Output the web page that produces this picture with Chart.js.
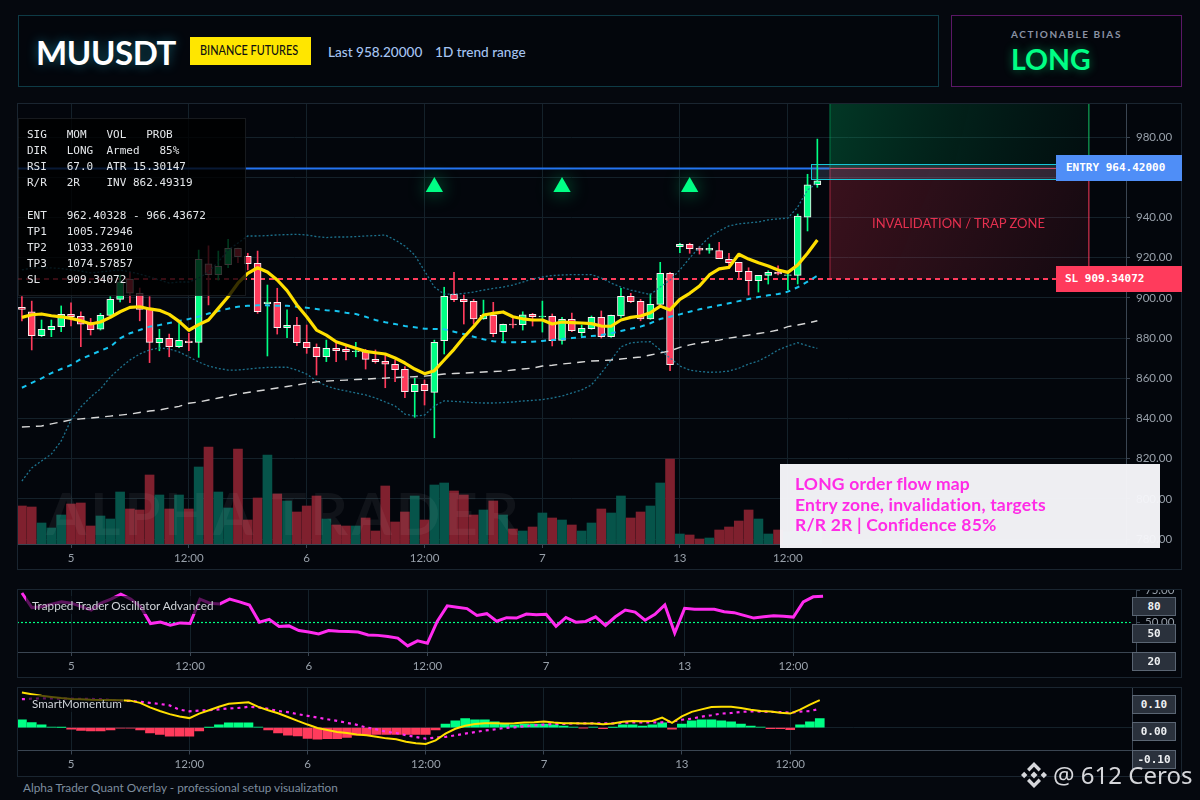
<!DOCTYPE html>
<html>
<head>
<meta charset="utf-8">
<title>MUUSDT</title>
<script src="https://cdn.jsdelivr.net/npm/chart.js@4/dist/chart.umd.min.js"></script>
<style>
  html, body { margin: 0; padding: 0; background: #05080e; }
  #page { position: relative; width: 1200px; height: 800px; overflow: hidden; background: #05080e; font-family: Lato, "Noto Sans", sans-serif; }
  #page div, #page canvas, #page pre, #page svg { position: absolute; box-sizing: border-box; }
  .panel { background: #03060c; border: 1px solid #1a2530; }
  .frame { border: 1px solid #1a2530; pointer-events: none; }
  .mono { font-family: "DejaVu Sans Mono", monospace; }
  .axisBox { left: 1132px; width: 44px; background: #2a313c; border: 1px solid #5a6573; color: #eef0f2; font: bold 11px "DejaVu Sans Mono", monospace; text-align: center; }
  .paneTitle { background: rgba(3,6,12,.65); color: #cfd3d8; font-size: 11.7px; padding-left: 6px; white-space: nowrap; }
</style>
</head>
<body>
<div id="page">
  <div style="left:18px;top:15px;width:921px;height:72px;background:#03060c;border:1px solid #0e3b46"></div>
  <div style="left:36px;top:30px;font-size:33px;line-height:44px;font-weight:700;letter-spacing:-.4px;color:#fff;text-shadow:0 0 12px rgba(40,200,230,.45)">MUUSDT</div>
  <div style="left:190px;top:37px;width:121px;height:28px;background:#ffe600"></div>
  <div style="left:200px;top:37px;color:#111;font-size:12.5px;line-height:28px;font-weight:500;white-space:nowrap;transform:scaleX(.87);transform-origin:left">BINANCE FUTURES</div>
  <div style="left:328px;top:42px;font-size:13.6px;line-height:20px;color:#a6c4f2;font-weight:500;white-space:nowrap">Last 958.20000</div>
  <div style="left:435px;top:42px;font-size:13.6px;line-height:20px;color:#a6c4f2;font-weight:500;white-space:nowrap">1D trend range</div>

  <div style="left:951px;top:15px;width:231px;height:72px;background:#03060c;border:1px solid #5b1766"></div>
  <div style="left:1011px;top:27px;font-size:10px;line-height:14px;letter-spacing:1.6px;color:#8a92a4;font-weight:700;white-space:nowrap">ACTIONABLE BIAS</div>
  <div style="left:1011px;top:40px;font-size:28.5px;line-height:38px;font-weight:700;color:#00ff85;text-shadow:0 0 10px rgba(0,255,133,.45)">LONG</div>

  <div class="panel" style="left:17px;top:103px;width:1165px;height:467px"></div>
  <canvas id="mainCV" width="1165" height="467" style="left:17px;top:103px"></canvas>
  <div class="frame" style="left:17px;top:103px;width:1165px;height:467px"></div>
  <div style="left:46px;top:478px;font-size:58px;line-height:70px;font-weight:700;letter-spacing:4px;color:rgba(255,255,255,.055);white-space:nowrap">ALPHA TRADER</div>

  <div style="left:18px;top:118px;width:228px;height:178px;background:rgba(0,0,0,.78);border:1px solid rgba(90,100,110,.25)"></div>
  <pre class="mono" style="left:27px;top:127px;margin:0;font-size:11px;line-height:16.15px;color:#e4e7ea">SIG   MOM   VOL   PROB
DIR   LONG  Armed   85%
RSI   67.0  ATR 15.30147
R/R   2R    INV 862.49319

ENT   962.40328 - 966.43672
TP1   1005.72946
TP2   1033.26910
TP3   1074.57857
SL    909.34072</pre>

  <div class="mono" style="left:1056px;top:155px;width:126px;height:26px;background:#4f8ef7;color:#fff;font-size:11px;font-weight:700;line-height:26px;padding-left:10px">ENTRY 964.42000</div>
  <div class="mono" style="left:1056px;top:266px;width:126px;height:26px;background:#ff3b5c;color:#fff;font-size:11px;font-weight:700;line-height:26px;padding-left:9px">SL 909.34072</div>
  <div style="left:829px;top:214px;width:259px;text-align:center;font-size:13px;line-height:18px;color:#e5304f;white-space:nowrap">INVALIDATION / TRAP ZONE</div>

  <div style="left:780px;top:464px;width:380px;height:84px;background:rgba(246,246,250,.97);padding:10px 0 0 15px;color:#ff2be6;font-size:17.5px;line-height:20.5px;letter-spacing:.2px;font-weight:700;white-space:nowrap">LONG order flow map<br>Entry zone, invalidation, targets<br>R/R 2R | Confidence 85%</div>

  <div class="panel" style="left:17px;top:589px;width:1165px;height:89px"></div>
  <canvas id="oscCV" width="1165" height="89" style="left:17px;top:589px"></canvas>
  <div class="frame" style="left:17px;top:589px;width:1165px;height:89px"></div>
  <div class="paneTitle" style="left:26px;top:596px;height:18px;width:194px;line-height:18px">Trapped Trader Oscillator Advanced</div>
  <div class="axisBox" style="top:597px;height:19px;line-height:17px">80</div>
  <div class="axisBox" style="top:624px;height:19px;line-height:17px">50</div>
  <div class="axisBox" style="top:652px;height:19px;line-height:17px">20</div>

  <div class="panel" style="left:17px;top:687px;width:1165px;height:90px"></div>
  <canvas id="momCV" width="1165" height="90" style="left:17px;top:687px"></canvas>
  <div class="frame" style="left:17px;top:687px;width:1165px;height:90px"></div>
  <div class="paneTitle" style="left:26px;top:695px;height:17px;width:98px;line-height:17px">SmartMomentum</div>
  <div class="axisBox" style="top:695px;height:19px;line-height:17px">0.10</div>
  <div class="axisBox" style="top:722px;height:19px;line-height:17px">0.00</div>
  <div class="axisBox" style="top:750px;height:19px;line-height:17px">-0.10</div>

  <div style="left:23px;top:780px;font-size:11.8px;line-height:15px;color:#7d8d9e;white-space:nowrap">Alpha Trader Quant Overlay - professional setup visualization</div>

  <svg style="left:1020px;top:761px" width="28" height="28" viewBox="0 0 28 28" fill="#d6d7db">
    <path d="M14 10.5 17.5 14 14 17.5 10.5 14Z"/>
    <path d="M4.2 10.8 7.4 14 4.2 17.2 1 14Z"/>
    <path d="M23.8 10.8 27 14 23.8 17.2 20.6 14Z"/>
    <path d="M14 1 21 8 18.6 10.4 14 5.8 9.4 10.4 7 8Z"/>
    <path d="M14 27 21 20 18.6 17.6 14 22.2 9.4 17.6 7 20Z"/>
  </svg>
  <div style="left:1053px;top:758px;font-family:'Noto Sans',sans-serif;font-size:24px;line-height:34px;color:#d6d7db;white-space:nowrap">@ 612 Ceros</div>
</div>

<script>
const opens = [895.3,893.1,881.2,884.2,885.7,891.8,890.8,887.7,884.4,891.3,
  899.3,909.4,902.3,894.3,877.7,879.9,875.7,878.5,877.9,916.9,
  911.5,916.5,924.7,920.7,917.2,897.1,897.8,885.2,886.5,877.9,
  875.4,870.7,874.9,874.4,873.3,873.3,869.4,868.5,867,864.5,
  853.3,857,853,878.7,901.8,899.3,898.3,889.6,891.3,883.2,
  887,886.7,891.8,890.5,890.8,878.9,889.3,882.7,884.7,890.3,
  880.7,891,900.8,898.3,889.6,896.8,912.2,925.5,926.6,924.7,
  923.8,923.5,919.2,917.7,913.2,908.6,911.2,912.7,911.2,911.2,
  940.1,956.3];
const closes = [894.3,881.2,884.4,885.9,891.8,890.6,886.9,884.2,891.3,899.3,
  908,902.3,894.3,877.9,879.9,875.7,878.9,877.7,919.2,911.5,
  915.7,924.7,920.5,917,893.1,897.9,885.2,886.4,877.7,875.2,
  870.7,874.9,873.7,873.2,873.6,869.4,868.3,867,864.3,853.3,
  857,853.8,877.9,900.8,899.1,898.1,889.6,891.3,882.2,886.9,
  886.5,891.6,890.6,890.9,878.7,889.3,883.7,884.9,890.3,880.7,
  891.3,900.8,898.1,889.6,896.8,912.2,866.8,926.6,924.5,923.8,
  924.7,919.5,917.5,913,908.6,911.2,912.7,911.9,911.5,940.7,
  956.2,958.2];
const highs = [900.6,898.4,889,889,896,897.6,893.1,889.8,892.3,900.6,
  911.4,912.7,904.9,900.6,884.4,882,887.6,882.4,923.8,925.9,
  923.3,929.1,924.8,922.2,923.3,906.4,904.8,894,890.3,886.5,
  877.1,879,877.4,876.6,877.9,874.4,874.1,871.6,869.1,865.8,
  860,859.2,879,905.3,912.7,901.4,899.3,898.9,897.8,887,
  890.3,893.1,892.3,898.4,892,890.3,892.5,886.5,891,893.5,
  891.4,904.8,902.3,899.3,902,917.7,912.7,927.2,927.2,925.5,
  926.8,927.6,922.2,917.7,915,911.2,913.5,915.9,913,941.7,
  961.5,979];
const lows = [888.6,874.1,880.7,880.7,883.2,886,875.7,881.5,884,890.6,
  898,897.6,888.6,867.8,873.7,870.7,875.2,873.7,870.4,896.5,
  908.9,915,917.5,913.9,892.3,871.1,882,880.2,876.2,872.4,
  861.6,868.3,868.3,869.1,870.7,864.6,867.5,855.3,858.3,850.3,
  840.6,846.7,830.4,872.1,898.1,887,887,889.3,880.7,878.2,
  885,884,886,883,876.1,877,883.2,881,884.4,880,
  880.3,890.3,897.6,888.6,889.3,896.5,863.8,922.5,922.2,921.8,
  922.2,919.5,914.7,909.2,901.4,902.9,906.9,911.4,904,906.9,
  933.3,955];
const volumes = [38,37,21,16,29,40,41,18,28,25,
  52,35,34,69,49,35,49,35,77,97,
  52,36,95,24,46,89,50,43,32,38,
  48,25,19,18,18,26,13,58,22,32,
  48,24,59,61,53,49,29,34,43,29,
  15,13,17,31,26,24,19,13,21,35,
  31,48,26,32,38,61,85,10,9,5,
  6,14,17,23,34,25,10,14,12,20,
  30,15];
const emaFast = [890.3,891.6,892,891.1,890.6,889.8,888.6,887,888,890.3,
  893.1,895.3,895.6,894.5,893.8,891.8,888.3,883.9,886.7,889,
  894.8,900.6,907.3,912.2,915,912.9,908.9,903.6,896.5,890.6,
  884,881.5,878.2,876.6,874.9,873.4,872.7,872.1,870.1,867.6,
  864.6,862.3,863.8,869.1,874.4,880.4,885.7,891.5,892.3,893,
  890.6,889.6,889,889,887,888,887.7,887.5,887.2,886,
  885.9,889,890.3,891,892.6,895.9,894,899.3,902.3,905.9,
  911.4,914.4,915.2,921.7,919.3,917.5,915.9,913.9,912.7,916.4,
  922.2,928.8];
const emaMid = [855.3,857.7,860,862.6,864.6,866.6,869.6,871.6,873.7,875.7,
  879.9,882.4,884,885.7,886.5,887.5,888.5,889.5,890.7,892.2,
  893.5,894.6,895.6,896.1,896.3,896.3,896.1,896.1,895.6,895.1,
  894.5,893.8,893.5,892.6,892,890.6,889,887.9,887,886,
  885.4,884.7,884.5,884.4,883.2,882,880.7,879.4,878.4,877.9,
  877.9,878,878.2,878.6,879,879.5,880,880.5,881,881.5,
  882.4,883.5,884.7,885.7,887.4,889.5,890.6,891.8,893.1,894.3,
  895.3,896.3,897.3,898.4,899.4,900.4,901.3,901.9,903.1,905.3,
  908.1,911];
const emaSlow = [835.8,836,836.3,837.3,838.3,839.3,839.8,840.2,840.7,841.2,
  841.7,842.2,843,843.7,844.2,845.2,846,847.6,848.2,849.2,
  850.2,851.2,852.2,852.9,853.7,854.4,855.2,855.9,856.7,857.5,
  858.2,858.6,858.9,859.1,859.4,859.6,859.9,860.1,860.4,860.6,
  860.8,861.1,861.6,862.1,862.4,862.6,862.9,863.1,863.4,863.6,
  864.1,864.6,865.1,866.1,866.5,867.1,867.6,868.1,868.6,868.8,
  869.1,869.6,870.1,870.6,871.6,872.6,873.6,875.4,876.6,877.6,
  878.3,879,880,880.7,881.5,882.3,883,884,885.7,886.5,
  887.5,888.6];
const bandUpper = [913.9,914.9,914.9,914.9,914.6,913.9,913.4,912.4,912.9,913.4,
  913.9,912.9,911.9,910.4,908.9,907.4,907.9,907.9,909.9,912.9,
  917.9,923.8,927.3,930.8,930.8,931,931.3,931.5,931.6,931.3,
  930.5,930,930.3,930.3,930.5,930.8,931,931.3,928.8,925.8,
  921.3,913.4,905.4,901.9,901.9,902.2,902.9,903.9,904.7,905.4,
  906.4,907.9,909.4,910.4,911.1,911.4,911.6,911.6,911.6,909.9,
  907.4,905.4,903.9,902.7,901.7,905.4,908.9,913.9,919.8,925.3,
  930.3,933.3,935.8,936.8,937.3,937.8,938.8,939.3,939.7,945.2,
  953.7,957.2];
const bandLower = [808.9,815.4,818.9,822.3,828.8,839.3,845.7,850.7,854.7,860.6,
  865.1,869.1,872.1,874.1,875.1,874.6,873.1,870.7,868.1,866.1,
  864.9,864.1,864.1,864.6,865.1,865.4,865.5,865.5,864.1,862.1,
  858.6,856.2,854.7,853.7,852.7,851.7,850.2,848.2,846.2,842.2,
  841.2,841.7,846.2,848.8,848.5,848.2,847.9,847.7,847.7,847.9,
  848.2,848.7,849,849.4,850.2,851.2,852.7,854.2,856.7,862.6,
  869.1,875.7,877.6,878.1,878.2,874.1,870.1,866.1,864.1,863.4,
  863,863.1,863.6,865,867.1,868.6,871.1,874.1,876.1,877.7,
  876.2,874.9];
const oscillator = [72.7,61.5,62.2,64.1,65.9,64.9,62.2,59.6,64.9,68,
  71.9,68,62.2,49.2,50.3,47.9,49.7,49.2,68,64.9,
  64.3,68,65.9,63.5,50.3,52.4,46.9,47.4,43.8,42.7,
  41.2,43.8,43.2,43,42.7,40.4,40.1,39.3,38,32,
  35.9,34.1,51,62.8,61.7,60.7,55.5,56.8,51,53.7,
  53.4,56.5,56,56.3,47.1,53.9,50.3,50.8,54.4,47.7,
  54.4,59.6,58,51.8,56.3,63.5,41.9,60.9,60.2,60.2,
  60.2,58.3,57.6,55.5,53.4,54.4,55.2,54.9,54.2,65.9,
  69.8,70.3];
const momentum = [.125,.119,.113,.109,.105,.102,.101,.099,.098,.098,
  .097,.096,.088,.072,.059,.048,.04,.034,.05,.062,
  .074,.085,.088,.09,.074,.062,.051,.038,.024,.011,
  -.001,-.008,-.015,-.019,-.024,-.027,-.032,-.038,-.041,-.05,
  -.055,-.058,-.045,-.021,-.004,.007,.013,.016,.016,.015,
  .016,.018,.019,.022,.018,.016,.016,.015,.015,.012,
  .015,.021,.024,.023,.024,.036,.017,.04,.056,.065,
  .073,.074,.074,.07,.064,.059,.057,.053,.05,.064,
  .082,.098];
const signal = [.101,.103,.104,.104,.103,.103,.102,.102,.101,.098,
  .096,.095,.092,.088,.084,.079,.064,.058,.061,.062,
  .065,.068,.07,.074,.072,.067,.059,.055,.048,.042,
  .036,.03,.024,.017,.01,0,-.006,-.015,-.019,-.027,
  -.033,-.039,-.035,-.033,-.027,-.021,-.016,-.01,-.006,-.001,
  .001,.005,.008,.011,.013,.013,.015,.015,.015,.015,
  .015,.017,.019,.019,.019,.019,.022,.028,.032,.039,
  .044,.05,.052,.056,.058,.057,.056,.055,.053,.057,
  .059,.067];
const histogram = [.028,.018,.01,.002,.001,-.005,-.01,-.012,-.012,-.008,
  -.002,-.002,-.008,-.019,-.024,-.03,-.03,-.03,-.012,.001,
  .01,.017,.017,.017,.002,-.008,-.019,-.027,-.029,-.038,
  -.041,-.039,-.039,-.035,-.027,-.027,-.024,-.024,-.024,-.024,
  -.024,-.024,-.008,.013,.024,.032,.028,.028,.021,.013,
  .01,.013,.013,.013,.01,.006,.002,-.001,.002,-.004,
  .001,.01,.01,.006,.01,.017,-.005,.013,.024,.028,
  .028,.024,.021,.013,.006,.002,-.004,-.004,-.007,.01,
  .021,.032];

const tickIndex = [5, 17, 29, 41, 53, 67, 78];
const tickNames = ['5', '12:00', '6', '12:00', '7', '13', '12:00'];
const signalIndex = [42, 55, 68];
const signalPrice = 955.2;

const entryPrice = 964.42;
const entryTop = 966.44;
const entryBottom = 958.9;
const stopPrice = 909.34;

const GREEN = '#00ff85';
const RED = '#ff3b5c';
const GRID = '#14212a';
const AXIS = '#3a4552';
const TICK = '#98a0aa';
const TICK_FONT = { family: 'Lato', size: 11.5 };

function pts(arr) {
  return arr.map(function(v, i) { return { x: i, y: v }; });
}

function isUp(i) {
  return closes[i] >= opens[i];
}

// shared x axis, only the stretch differs per pane
function timeAxis(maxX, axisHeight) {
  return {
    type: 'linear',
    offset: false,
    min: -0.5,
    max: maxX,
    afterBuildTicks: function(axis) {
      axis.ticks = tickIndex.map(function(v) { return { value: v }; });
    },
    afterFit: function(axis) {
      axis.height = axisHeight;
      axis.paddingLeft = 0;
      axis.paddingRight = 0;
    },
    ticks: {
      color: TICK,
      font: TICK_FONT,
      maxRotation: 0,
      autoSkip: false,
      padding: 3,
      callback: function(v) { return tickNames[tickIndex.indexOf(v)]; }
    },
    grid: { offset: false, color: GRID, tickColor: AXIS, tickLength: 4 },
    border: { color: AXIS }
  };
}

function rightAxis(width) {
  return function(axis) {
    axis.width = width;
    axis.paddingTop = 0;
    axis.paddingBottom = 0;
  };
}

const glowPlugin = {
  id: 'glow',
  beforeDatasetDraw: function(chart, args) {
    const ds = chart.data.datasets[args.index];
    if (!ds.glow) return;
    chart.ctx.save();
    chart.ctx.shadowColor = ds.glow;
    chart.ctx.shadowBlur = 18;
  },
  afterDatasetDraw: function(chart, args) {
    if (chart.data.datasets[args.index].glow) chart.ctx.restore();
  }
};

// zones and entry / stop levels, sits under the candles
const zonesPlugin = {
  id: 'zones',
  beforeDatasetsDraw: function(chart) {
    const c = chart.ctx, x = chart.scales.x, y = chart.scales.y, area = chart.chartArea;
    const zl = x.getPixelForValue(82.24), zr = x.getPixelForValue(108.6);
    const bl = x.getPixelForValue(80.35), br = x.getPixelForValue(105.3);
    const yEntry = y.getPixelForValue(entryPrice), yStop = y.getPixelForValue(stopPrice);

    c.save();
    let g = c.createLinearGradient(zl, area.top, zr, yEntry);
    g.addColorStop(0, 'rgba(0,200,110,.26)');
    g.addColorStop(1, 'rgba(0,120,70,.08)');
    c.fillStyle = g;
    c.fillRect(zl, area.top, zr - zl, yEntry - area.top);

    g = c.createLinearGradient(zl, yEntry, zr, yStop);
    g.addColorStop(0, 'rgba(255,60,90,.22)');
    g.addColorStop(1, 'rgba(255,60,90,.07)');
    c.fillStyle = g;
    c.fillRect(zl, yEntry, zr - zl, yStop - yEntry);

    c.lineWidth = 1;
    c.strokeStyle = 'rgba(0,200,110,.45)';
    c.beginPath(); c.moveTo(zl + .5, area.top); c.lineTo(zl + .5, yEntry); c.stroke();
    c.strokeStyle = 'rgba(255,60,90,.5)';
    c.beginPath(); c.moveTo(zl + .5, yEntry); c.lineTo(zl + .5, yStop); c.stroke();
    c.strokeStyle = '#12c765';
    c.beginPath(); c.moveTo(zr + .5, area.top); c.lineTo(zr + .5, yEntry); c.stroke();
    c.strokeStyle = RED;
    c.beginPath(); c.moveTo(zr + .5, yEntry); c.lineTo(zr + .5, yStop); c.stroke();

    c.lineWidth = 2;
    c.strokeStyle = '#2474f2';
    c.beginPath(); c.moveTo(area.left, yEntry); c.lineTo(zl, yEntry); c.stroke();
    c.lineWidth = 1;
    c.strokeStyle = '#f0405f';
    c.beginPath(); c.moveTo(zl, yEntry); c.lineTo(br, yEntry); c.stroke();

    const t = y.getPixelForValue(entryTop), b = y.getPixelForValue(entryBottom);
    c.fillStyle = 'rgba(125,150,190,.2)';
    c.fillRect(bl, t, br - bl, b - t);
    c.strokeStyle = '#17c6d6';
    c.strokeRect(Math.round(bl) + .5, Math.round(t) + .5, Math.round(br - bl), Math.round(b - t));

    c.lineWidth = 2;
    c.strokeStyle = RED;
    c.setLineDash([5, 4]);
    c.beginPath(); c.moveTo(area.left, yStop); c.lineTo(br, yStop); c.stroke();
    c.restore();
  }
};

(function(){
  const ctx = document.getElementById('mainCV');

  new Chart(ctx, {
    data: {
      datasets: [{
        type: 'scatter',
        data: signalIndex.map(function(i) { return { x: i, y: signalPrice }; }),
        pointStyle: 'triangle',
        pointRadius: 10,
        pointRotation: 0,
        backgroundColor: GREEN,
        borderWidth: 0,
        glow: 'rgba(0,255,133,.6)',
        yAxisID: 'y',
        order: 0
      }, {
        type: 'line',
        data: pts(emaFast),
        borderColor: '#ffdf00',
        borderWidth: 3.2,
        pointRadius: 0,
        tension: 0,
        borderJoinStyle: 'round',
        yAxisID: 'y',
        order: 1
      }, {
        type: 'line',
        data: pts(emaMid),
        borderColor: '#16c4f0',
        borderWidth: 2,
        borderDash: [5, 5],
        pointRadius: 0,
        tension: 0,
        yAxisID: 'y',
        order: 2
      }, {
        type: 'line',
        data: pts(emaSlow),
        borderColor: '#d8d8d8',
        borderWidth: 1.4,
        borderDash: [8, 6],
        pointRadius: 0,
        tension: 0,
        yAxisID: 'y',
        order: 3
      }, {
        type: 'line',
        data: pts(bandUpper),
        borderColor: 'rgba(32,125,155,.9)',
        borderWidth: 1.3,
        borderDash: [2, 2],
        pointRadius: 0,
        tension: 0,
        yAxisID: 'y',
        order: 4
      }, {
        type: 'line',
        data: pts(bandLower),
        borderColor: 'rgba(32,125,155,.9)',
        borderWidth: 1.3,
        borderDash: [2, 2],
        pointRadius: 0,
        tension: 0,
        yAxisID: 'y',
        order: 5
      }, {
        type: 'bar',
        data: opens.map(function(o, i) { return { x: i, y: [o, closes[i]] }; }),
        backgroundColor: function(c) { return isUp(c.dataIndex) ? GREEN : RED; },
        borderColor: '#fbeef0',
        borderWidth: 1,
        borderSkipped: false,
        barThickness: 7,
        grouped: false,
        yAxisID: 'y',
        order: 6
      }, {
        type: 'bar',
        data: lows.map(function(l, i) { return { x: i, y: [l, highs[i]] }; }),
        backgroundColor: function(c) { return isUp(c.dataIndex) ? GREEN : RED; },
        barThickness: 1,
        grouped: false,
        yAxisID: 'y',
        order: 7
      }, {
        type: 'bar',
        data: pts(volumes),
        backgroundColor: function(c) { return isUp(c.dataIndex) ? '#06544a' : '#7f202e'; },
        barThickness: 9,
        grouped: false,
        yAxisID: 'yVol',
        order: 8
      }]
    },
    options: {
      responsive: false,
      animation: false,
      devicePixelRatio: 1,
      layout: { padding: 0, autoPadding: false },
      scales: {
        x: timeAxis(112.43, 26),
        y: {
          position: 'right',
          min: 777.56,
          max: 996.96,
          afterFit: rightAxis(56),
          ticks: {
            stepSize: 20,
            includeBounds: false,
            color: TICK,
            font: TICK_FONT,
            padding: 6,
            callback: function(v) { return v.toFixed(2); }
          },
          grid: { color: GRID, tickColor: AXIS, tickLength: 4 },
          border: { color: AXIS }
        },
        yVol: { display: false, min: 0, max: 441 }
      },
      plugins: { legend: { display: false }, tooltip: { enabled: false } }
    },
    plugins: [zonesPlugin, glowPlugin]
  });
})();

(function(){
  const ctx = document.getElementById('oscCV');
  const level = [{ x: -0.5, y: 50 }, { x: 112.1, y: 50 }];

  new Chart(ctx, {
    data: {
      datasets: [{
        type: 'line',
        data: pts(oscillator),
        borderColor: '#ff2bef',
        borderWidth: 3,
        pointRadius: 0,
        tension: 0,
        order: 0
      }, {
        type: 'line',
        data: level,
        borderColor: GREEN,
        borderWidth: 1.2,
        borderDash: [2, 2],
        pointRadius: 0,
        order: 1
      }]
    },
    options: {
      responsive: false,
      animation: false,
      devicePixelRatio: 1,
      layout: { padding: 0, autoPadding: false },
      scales: {
        x: timeAxis(112.64, 26),
        y: {
          position: 'right',
          min: 27.3,
          max: 75.8,
          afterFit: rightAxis(46),
          afterBuildTicks: function(axis) {
            axis.ticks = [{ value: 75 }, { value: 50 }];
          },
          ticks: {
            color: TICK,
            font: TICK_FONT,
            padding: 5,
            callback: function(v) { return v.toFixed(2); }
          },
          grid: { drawOnChartArea: false, tickColor: AXIS, tickLength: 4 },
          border: { color: AXIS }
        }
      },
      plugins: { legend: { display: false }, tooltip: { enabled: false } }
    }
  });
})();

(function(){
  const ctx = document.getElementById('momCV');

  new Chart(ctx, {
    data: {
      datasets: [{
        type: 'line',
        data: pts(momentum),
        borderColor: '#ffdf00',
        borderWidth: 2,
        pointRadius: 0,
        tension: 0,
        order: 0
      }, {
        type: 'line',
        data: pts(signal),
        borderColor: '#ff2bef',
        borderWidth: 2.2,
        borderDash: [3, 4],
        pointRadius: 0,
        tension: 0,
        order: 1
      }, {
        type: 'bar',
        data: pts(histogram),
        backgroundColor: histogram.map(function(v) { return v >= 0 ? GREEN : RED; }),
        barThickness: 9,
        grouped: false,
        order: 2
      }]
    },
    options: {
      responsive: false,
      animation: false,
      devicePixelRatio: 1,
      layout: { padding: 0, autoPadding: false },
      scales: {
        x: timeAxis(112.7, 26.5),
        y: {
          position: 'right',
          min: -0.0811,
          max: 0.1444,
          afterFit: rightAxis(50),
          afterBuildTicks: function(axis) {
            axis.ticks = [{ value: 0 }];
          },
          ticks: { display: false },
          grid: { color: GRID, drawTicks: false },
          border: { color: AXIS }
        }
      },
      plugins: { legend: { display: false }, tooltip: { enabled: false } }
    }
  });
})();
</script>
</body>
</html>
